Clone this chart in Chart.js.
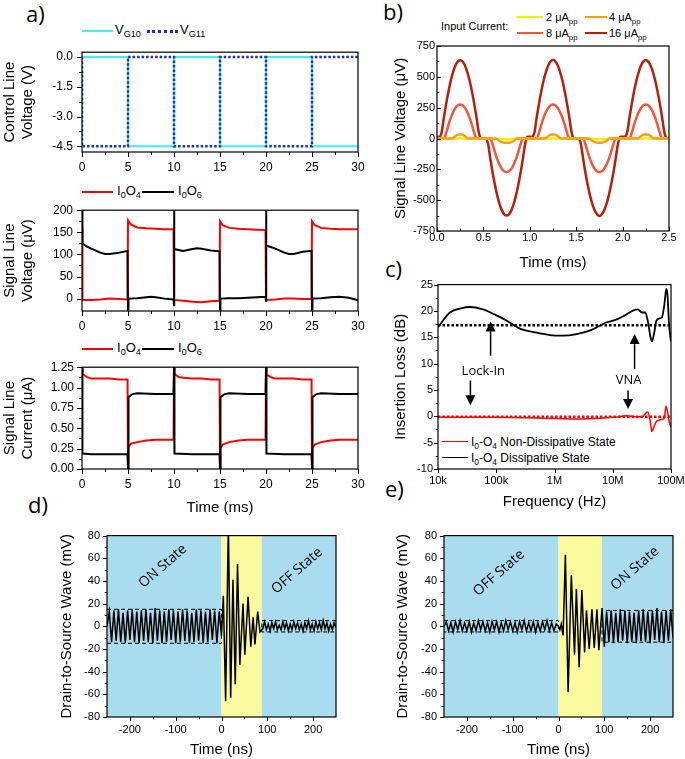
<!DOCTYPE html>
<html>
<head>
<meta charset="utf-8">
<title>Control / signal line figure</title>
<script src="https://cdn.jsdelivr.net/npm/chart.js@4.4.1/dist/chart.umd.min.js"></script>
<style>
  html, body { margin: 0; padding: 0; background: #fff; }
  body { position: relative; width: 685px; height: 759px; overflow: hidden; font-family: "Liberation Sans", Arial, sans-serif; color: #000; }
  canvas { position: absolute; }
  .tag { position: absolute; font: 22px/22px "Open Sans", sans-serif; }
  .lg { position: absolute; font-size: 12px; line-height: 14px; white-space: nowrap; }
  .lg sub { font-size: 70%; vertical-align: -3px; line-height: 0; }
  .sm { font-size: 11px; }
  .sw { position: absolute; height: 0; }
</style>
</head>
<body>

<div class="tag" style="left:26px;top:2px">a)</div>
<div class="tag" style="left:383px;top:0px">b)</div>
<div class="tag" style="left:385px;top:257px">c)</div>
<div class="tag" style="left:28px;top:493px">d)</div>
<div class="tag" style="left:385px;top:477px">e)</div>

<!-- a) legends -->
<div class="sw" style="left:82px;top:30px;width:31px;border-top:2.5px solid #40eef0"></div>
<div class="lg" style="left:115px;top:23px;font-size:13px">V<sub>G10</sub></div>
<div class="sw" style="left:147px;top:30px;width:31px;border-top:3px dotted #1a30c8"></div>
<div class="lg" style="left:180px;top:23px;font-size:13px">V<sub>G11</sub></div>

<div class="sw" style="left:82px;top:191px;width:31px;border-top:2px solid #ff0000"></div>
<div class="lg" style="left:117px;top:184px;font-size:13px">I<sub>0</sub>O<sub>4</sub></div>
<div class="sw" style="left:142px;top:191px;width:32px;border-top:2px solid #000"></div>
<div class="lg" style="left:178px;top:184px;font-size:13px">I<sub>0</sub>O<sub>6</sub></div>

<div class="sw" style="left:82px;top:348px;width:31px;border-top:2px solid #ff0000"></div>
<div class="lg" style="left:117px;top:341px;font-size:13px">I<sub>0</sub>O<sub>4</sub></div>
<div class="sw" style="left:142px;top:348px;width:32px;border-top:2px solid #000"></div>
<div class="lg" style="left:178px;top:341px;font-size:13px">I<sub>0</sub>O<sub>6</sub></div>

<!-- b) legend -->
<div class="lg sm" style="left:441px;top:19px">Input Current:</div>
<div class="sw" style="left:517px;top:16px;width:26px;border-top:2.5px solid #f4ef00"></div>
<div class="lg sm" style="left:546px;top:10px">2 μA<sub>pp</sub></div>
<div class="sw" style="left:585px;top:16px;width:22px;border-top:2.5px solid #ff9a1a"></div>
<div class="lg sm" style="left:609px;top:10px">4 μA<sub>pp</sub></div>
<div class="sw" style="left:517px;top:32px;width:26px;border-top:2.5px solid #f5553a"></div>
<div class="lg sm" style="left:546px;top:26px">8 μA<sub>pp</sub></div>
<div class="sw" style="left:585px;top:32px;width:22px;border-top:2.5px solid #b3200e"></div>
<div class="lg sm" style="left:609px;top:26px">16 μA<sub>pp</sub></div>

<!-- c) legend -->
<div class="sw" style="left:442px;top:441px;width:26px;border-top:1.5px solid #ff0000"></div>
<div class="lg" style="left:471px;top:435px">I<sub>0</sub>-O<sub>4</sub> Non-Dissipative State</div>
<div class="sw" style="left:442px;top:457px;width:26px;border-top:1.5px solid #000"></div>
<div class="lg" style="left:471px;top:451px">I<sub>0</sub>-O<sub>4</sub> Dissipative State</div>

<script>
// ---------- a) time-domain switching (ms) ----------
const aTimeTicks = [0, 5, 10, 15, 20, 25, 30];
const a1YTicks = [0, -1.5, -3, -4.5];
const a2YTicks = [0, 50, 100, 150, 200];
const a3YTicks = [0, 0.25, 0.5, 0.75, 1, 1.25];

const vg10 = [[0,0],[5,0],[5,-4.5],[10,-4.5],[10,0],[15,0],[15,-4.5],[20,-4.5],[20,0],[25,0],[25,-4.5],[30,-4.5]];
const vg11 = [[0,0],[0,-4.5],[5,-4.5],[5,0],[10,0],[10,-4.5],[15,-4.5],[15,0],[20,0],[20,-4.5],[25,-4.5],[25,0],[30,0]];

const a2O4 = [[0,160],[0.05,-3],[1,-3],[2,-2],[3,0],[4,-1],[4.95,-2],[5,177],[5.3,168],[6,161],[7,159],[8,158],[9,157],[9.95,157],
  [10,-3],[11,-5],[12,-7],[13,-8],[14,-6],[14.95,-5],[15,175],[15.3,166],[16,160],[17,158],[18,157],[19,156],[19.95,155],
  [20,-3],[21,-2],[22,0],[23,0],[24,-1],[24.95,-1],[25,175],[25.3,166],[26,160],[27,158],[28,157],[29,157],[30,157]];
const a2O6 = [[0,200],[0.05,125],[0.5,118],[1,113],[2,104],[2.5,101],[3,101],[4,104],[4.95,108],[5,-25],[5.05,0],[6,1],[7,3],[7.5,4],[8,3],[9,0],[9.95,-2],
  [10,-15],[10,200],[10.05,112],[11,108],[12,112],[12.5,114],[13,113],[14,109],[14.95,107],[15,-25],[15.05,0],[16,1],[17,1],[18,2],[19,3],[19.95,4],
  [20,-5],[20,200],[20.05,120],[21,113],[22,104],[22.5,101],[23,101],[24,106],[24.95,108],[25,-25],[25.05,0],[26,1],[27,3],[28,4],[29,2],[30,-4]];

const a3O4 = [[0,1.25],[0.05,1.17],[0.5,1.13],[1,1.11],[2,1.11],[3,1.11],[4,1.1],[4.95,1.1],[5,0],[5.05,0.27],[5.3,0.31],[6,0.33],[7,0.35],[8,0.36],[9,0.36],[9.95,0.36],
  [10,1.25],[10.05,1.17],[10.5,1.13],[11,1.12],[12,1.11],[13,1.11],[14,1.1],[14.95,1.1],[15,0],[15.05,0.26],[15.3,0.3],[16,0.33],[17,0.35],[18,0.36],[19,0.36],[19.95,0.36],
  [20,1.25],[20.05,1.16],[20.5,1.13],[21,1.11],[22,1.11],[23,1.11],[24,1.1],[24.95,1.1],[25,0],[25.05,0.26],[25.3,0.3],[26,0.33],[27,0.35],[28,0.36],[29,0.36],[30,0.36]];
const a3O6 = [[0,1.25],[0.05,0.19],[1,0.18],[4.95,0.18],[5,0],[5.05,0.88],[5.5,0.92],[6,0.93],[8,0.92],[9.95,0.92],
  [10,1.25],[10.05,0.19],[12,0.18],[14.95,0.18],[15,0],[15.05,0.88],[15.5,0.92],[16,0.93],[18,0.92],[19.95,0.92],
  [20,1.25],[20.05,0.19],[22,0.18],[24.95,0.18],[25,0],[25.05,0.88],[25.5,0.92],[26,0.93],[28,0.92],[30,0.92]];

// ---------- b) sinusoidal input (ms, µV) ----------
const bXTicks = [0, 0.5, 1, 1.5, 2, 2.5];
const bYTicks = [-750, -500, -250, 0, 250, 500, 750];
const bTime = [0, 0.025, 0.05, 0.075, 0.1, 0.125, 0.15, 0.175, 0.2, 0.225, 0.25, 0.275, 0.3, 0.325, 0.35, 0.375, 0.4, 0.425, 0.45, 0.475,
  0.5, 0.525, 0.55, 0.575, 0.6, 0.625, 0.65, 0.675, 0.7, 0.725, 0.75, 0.775, 0.8, 0.825, 0.85, 0.875, 0.9, 0.925, 0.95, 0.975,
  1, 1.025, 1.05, 1.075, 1.1, 1.125, 1.15, 1.175, 1.2, 1.225, 1.25, 1.275, 1.3, 1.325, 1.35, 1.375, 1.4, 1.425, 1.45, 1.475,
  1.5, 1.525, 1.55, 1.575, 1.6, 1.625, 1.65, 1.675, 1.7, 1.725, 1.75, 1.775, 1.8, 1.825, 1.85, 1.875, 1.9, 1.925, 1.95, 1.975,
  2, 2.025, 2.05, 2.075, 2.1, 2.125, 2.15, 2.175, 2.2, 2.225, 2.25, 2.275, 2.3, 2.325, 2.35, 2.375, 2.4, 2.425, 2.45, 2.475, 2.5];
const b16uA = [12, 12, 51, 174, 287, 387, 474, 543, 594, 625, 635, 625, 594, 543, 474, 387, 287, 174, 51, 0,
  0, 0, -45, -165, -280, -380, -465, -535, -585, -615, -625, -615, -585, -535, -465, -380, -280, -165, -45, 15,
  15, 15, 51, 174, 287, 387, 474, 543, 594, 625, 638, 625, 594, 543, 474, 387, 287, 174, 51, 0,
  0, 0, -45, -165, -280, -380, -465, -535, -585, -615, -628, -615, -585, -535, -465, -380, -280, -165, -45, 15,
  15, 15, 51, 174, 287, 387, 474, 543, 594, 625, 636, 625, 594, 543, 474, 387, 287, 174, 51, 0, 0];
const b8uA = [0, 0, 0, 0, 49, 114, 171, 216, 249, 269, 276, 269, 249, 216, 171, 114, 49, 0, 0, 0,
  0, 0, 0, 0, -48, -112, -169, -214, -247, -266, -273, -266, -247, -214, -169, -112, -48, 0, 0, 0,
  0, 0, 0, 0, 49, 114, 171, 216, 249, 269, 276, 269, 249, 216, 171, 114, 49, 0, 0, 0,
  0, 0, 0, 0, -48, -112, -169, -214, -247, -266, -273, -266, -247, -214, -169, -112, -48, 0, 0, 0,
  0, 0, 0, 0, 49, 114, 171, 216, 249, 269, 276, 269, 249, 216, 171, 114, 49, 0, 0, 0, 0];
const b4uA = [0, 0, 0, 0, 0, 0, 0, 4, 21, 31, 34, 31, 21, 4, 0, 0, 0, 0, 0, 0,
  0, 0, 0, 0, 0, 0, -4, -20, -30, -34, -35, -34, -30, -20, -4, 0, 0, 0, 0, 0,
  0, 0, 0, 0, 0, 0, 0, 4, 21, 31, 34, 31, 21, 4, 0, 0, 0, 0, 0, 0,
  0, 0, 0, 0, 0, 0, -4, -20, -30, -34, -35, -34, -30, -20, -4, 0, 0, 0, 0, 0,
  0, 0, 0, 0, 0, 0, 0, 4, 21, 31, 34, 31, 21, 4, 0, 0, 0, 0, 0, 0, 0];
const b2uA = [0, 0, 0, 0, 0, 0, 0, 0, 0, 0, 2, 0, 0, 0, 0, 0, 0, 0, 0, 0,
  0, 0, 0, 0, 0, 0, -3, -5, -6, -6, -6, -6, -6, -5, -3, 0, 0, 0, 0, 0,
  0, 0, 0, 0, 0, 0, 0, 0, 0, 0, 2, 0, 0, 0, 0, 0, 0, 0, 0, 0,
  0, 0, 0, 0, 0, 0, -3, -5, -6, -6, -6, -6, -6, -5, -3, 0, 0, 0, 0, 0,
  0, 0, 0, 0, 0, 0, 0, 0, 0, 0, 2, 0, 0, 0, 0, 0, 0, 0, 0, 0, 0];

// ---------- c) insertion loss vs frequency ----------
const cXTicks = [1e4, 1e5, 1e6, 1e7, 1e8];
const cXLabels = ['10k', '100k', '1M', '10M', '100M'];
const cYTicks = [-10, -5, 0, 5, 10, 15, 20, 25];
const cDissipative = [[1e4,16.9],[1.6e4,19.7],[2.5e4,20.5],[3.5e4,20.75],[5.9e4,20.3],[9.1e4,19.4],[1.5e5,18.2],[2.6e5,16.6],[4.4e5,16.0],
  [8.4e5,15.4],[1.4e6,15.3],[2.4e6,15.6],[4.1e6,16.3],[7.7e6,17.8],[1.18e7,18.4],[1.75e7,19.4],[2.27e7,20.1],[2.7e7,20.3],[3.17e7,19.7],
  [3.6e7,19.7],[4e7,18.1],[4.4e7,15.3],[4.7e7,14.2],[5.1e7,15.6],[5.6e7,18.1],[6.4e7,18.6],[7e7,18.8],[7.7e7,21.2],[8.3e7,24.2],
  [8.7e7,23.1],[9.3e7,17.2],[1e8,14.2]];
const cNonDissipative = [[1e4,-0.2],[1e5,-0.2],[1e6,-0.4],[3e6,-0.5],[1e7,-0.2],[1.75e7,0.1],[2.5e7,-0.1],[3.2e7,-0.1],[3.7e7,0.6],[4e7,0.8],
  [4.4e7,-1.0],[4.7e7,-2.9],[5.1e7,-2.0],[5.6e7,-1.0],[6.4e7,-0.7],[7e7,-0.6],[7.7e7,-0.3],[8.2e7,1.9],[8.7e7,1.0],[9.3e7,-1.0],[1e8,-2.0]];
const cLockInDiss = [[1e4,17.3],[1e8,17.3]];
const cLockInNon = [[1e4,-0.1],[1e8,-0.1]];
const cArrows = [[3.6e4, 6.8, 2.1], [8.0e4, 11.5, 18.0], [1.83e7, 4.9, 1.4], [2.37e7, 9.0, 15.6]];
const cNotes = [['Lock-In', 6.0e4, 8.6], ['VNA', 1.87e7, 6.9]];

// ---------- d) / e) drain-to-source transients (ns, mV) ----------
const nsTicks = [-200, -100, 0, 100, 200];
const mvTicks = [-80, -60, -40, -20, 0, 20, 40, 60, 80];
const dStateEdges = [-250, 0, 88, 250];
const eStateEdges = [-250, 0, 95, 250];
const dWave = [[-250,0],[-245,13],[-240,-14],[-235,14],[-230,-13],[-225,15],[-220,-14],[-215,12],[-210,-15],[-205,14],
  [-200,-12],[-195,15],[-190,-14],[-185,13],[-180,-15],[-175,14],[-170,-13],[-165,15],[-160,-14],[-155,12],
  [-150,-15],[-145,16],[-140,-13],[-135,14],[-130,-15],[-125,13],[-120,-14],[-115,15],[-110,-12],[-105,14],
  [-100,-15],[-95,13],[-90,-14],[-85,15],[-80,-13],[-75,14],[-70,-15],[-65,12],[-60,-14],[-55,15],
  [-50,-13],[-45,14],[-40,-15],[-35,13],[-30,-14],[-25,15],[-20,-12],[-15,14],[-10,-15],[-5,13],
  [0,-8],[4,27],[9,-66],[15,90],[20,-63],[25,41],[30,-51],[35,55],[40,-34],[47,20],[51,-25],[58,26],[64,-18],[69,8],[73,-16],[79,13],[84,-5],
  [90,-2],[94,4],[98,-3],[102,2],[106,-4],[110,3],[114,-2],[118,4],[122,-3],[126,1],[130,-3],[134,4],[138,-2],[142,3],[146,-4],
  [150,2],[154,-3],[158,4],[162,-2],[166,3],[170,-3],[174,2],[178,-4],[182,3],[186,-2],[190,5],[194,-3],[198,2],[202,-4],[206,4],
  [210,-2],[214,3],[218,-3],[222,5],[226,-2],[230,3],[234,-4],[238,2],[242,-3],[246,3],[250,-1]];
const dGuideOn = [[-250,15],[0,15],[0,-15],[-250,-15]];
const dGuideOff = [[250,5],[88,5],[88,-5],[250,-5]];
const dStateText = [['ON State', -128, 53], ['OFF State', 165, 49]];

const eWave = [[-250,0],[-245,4],[-240,-4],[-235,3],[-230,-5],[-225,4],[-220,-3],[-215,5],[-210,-4],[-205,3],
  [-200,-4],[-195,4],[-190,-5],[-185,3],[-180,-4],[-175,5],[-170,-3],[-165,4],[-160,-4],[-155,3],
  [-150,-5],[-145,4],[-140,-3],[-135,4],[-130,-5],[-125,3],[-120,-4],[-115,5],[-110,-3],[-105,4],
  [-100,-4],[-95,3],[-90,-5],[-85,4],[-80,-3],[-75,5],[-70,-4],[-65,3],[-60,-4],[-55,4],
  [-50,-5],[-45,3],[-40,-4],[-35,4],[-30,-3],[-25,5],[-20,-4],[-15,3],[-10,-4],[-5,2],[0,0],
  [3,-3],[6,2],[10,-8],[15,63],[21,-58],[28,45],[35,-25],[39,33],[45,-36],[51,32],[57,-23],[61,14],[67,-20],[73,15],[78,-19],[84,15],[88,-21],
  [95,16],[100,-18],[105,13],[110,-14],[115,14],[120,-15],[125,12],[130,-14],[135,15],[140,-13],[145,14],[150,-15],[155,13],[160,-14],
  [165,12],[170,-15],[175,14],[180,-13],[185,15],[190,-14],[195,13],[200,-15],[205,14],[210,-12],[215,16],[220,-14],[225,13],[230,-15],
  [235,14],[240,-13],[245,15],[250,-10]];
const eGuideOff = [[-250,5],[0,5],[0,-5],[-250,-5]];
const eGuideOn = [[250,14],[95,14],[95,-14],[250,-14]];
const eStateText = [['OFF State', -130, 47], ['ON State', 167, 51]];

// ---------- drawing ----------
const SANS = '"Liberation Sans", Arial, sans-serif';
const BLUE_BG = '#a8dcee', YELLOW_BG = '#fcfa9e';
const DECOR = {};

const decorPlugin = {
  id: 'decor',
  beforeDatasetsDraw(chart) {
    const o = DECOR[chart.canvas.id];
    if (!o || !o.bands) return;
    const { ctx, chartArea: a } = chart, xs = chart.scales.x;
    ctx.save();
    for (let i = 0; i < o.bands.length - 1; i++) {
      const x0 = xs.getPixelForValue(o.bands[i]), x1 = xs.getPixelForValue(o.bands[i + 1]);
      ctx.fillStyle = o.bandColors[i];
      ctx.fillRect(x0, a.top, x1 - x0, a.bottom - a.top);
    }
    ctx.restore();
  },
  afterDraw(chart) {
    const o = DECOR[chart.canvas.id];
    if (!o) return;
    const { ctx, chartArea: a } = chart, xs = chart.scales.x, ys = chart.scales.y;
    ctx.save();
    ctx.fillStyle = '#000';
    ctx.strokeStyle = '#000';

    // text notes (rotated for d/e)
    (o.notes || []).forEach(n => {
      ctx.save();
      ctx.translate(xs.getPixelForValue(n[1]), ys.getPixelForValue(n[2]));
      ctx.rotate((o.angle || 0) * Math.PI / 180);
      ctx.font = o.noteFont;
      ctx.textAlign = 'center';
      ctx.textBaseline = 'middle';
      ctx.fillText(n[0], 0, 0);
      ctx.restore();
    });

    // vertical arrows (c)
    (o.arrows || []).forEach(ar => {
      const px = xs.getPixelForValue(ar[0]);
      const y0 = ys.getPixelForValue(ar[1]), y1 = ys.getPixelForValue(ar[2]);
      const dir = y1 < y0 ? 1 : -1, head = 10;
      ctx.lineWidth = 1.5;
      ctx.beginPath(); ctx.moveTo(px, y0); ctx.lineTo(px, y1 + dir * head); ctx.stroke();
      ctx.beginPath();
      ctx.moveTo(px, y1);
      ctx.lineTo(px - 5, y1 + dir * head);
      ctx.lineTo(px + 5, y1 + dir * head);
      ctx.closePath(); ctx.fill();
    });

    // major + minor tick marks
    ctx.lineWidth = 1;
    ctx.beginPath();
    [['x', xs], ['y', ys]].forEach(([k, s]) => {
      const t = o.ticks[k];
      const vals = s.ticks.map(tk => tk.value);
      const marks = vals.map(v => [v, t.len]);
      if (t.minor) for (let i = 0; i < vals.length - 1; i++) marks.push([(vals[i] + vals[i + 1]) / 2, t.len * 0.6]);
      marks.forEach(([v, len]) => {
        const p = Math.round(s.getPixelForValue(v)) + 0.5;
        if (k === 'x') { ctx.moveTo(p, a.bottom); ctx.lineTo(p, a.bottom + t.dir * len); }
        else { ctx.moveTo(a.left, p); ctx.lineTo(a.left - t.dir * len, p); }
      });
    });
    ctx.stroke();

    // box frame
    ctx.lineWidth = 1.2;
    ctx.strokeRect(a.left, a.top, a.right - a.left, a.bottom - a.top);
    ctx.restore();
  }
};
Chart.register(decorPlugin);

function series(points, color, width, dash, smooth) {
  return {
    data: points.map(p => ({ x: p[0], y: p[1] })),
    borderColor: color, borderWidth: width, borderDash: dash || [],
    pointRadius: 0, fill: false, tension: 0,
    cubicInterpolationMode: smooth ? 'monotone' : 'default'
  };
}
function zip(xs, ys) { return xs.map((x, i) => [x, ys[i]]); }

function axisOpts(o, isX, size) {
  return {
    type: o.type || 'linear',
    position: isX ? 'bottom' : 'left',
    min: o.min, max: o.max,
    afterBuildTicks: s => { s.ticks = o.ticks.map(v => ({ value: v })); },
    afterFit: s => { if (isX) s.height = size; else s.width = size; },
    grid: { display: false, drawTicks: false },
    border: { display: false },
    ticks: { padding: o.pad, color: '#000', autoSkip: false, maxRotation: 0, font: { family: SANS, size: o.fs }, callback: o.fmt },
    title: o.title
      ? { display: true, text: o.title, color: '#000', font: { family: SANS, size: 15, lineHeight: 1.25 }, padding: { top: o.tpad || 0, bottom: 0 } }
      : { display: false }
  };
}

// box = canvas [left, top, width, height]; area = plot [left, top, right, bottom], page pixels
function makeChart(id, box, area, datasets, xo, yo, decor) {
  const cv = document.createElement('canvas');
  cv.id = id;
  cv.width = box[2]; cv.height = box[3];
  cv.style.left = box[0] + 'px'; cv.style.top = box[1] + 'px';
  document.body.appendChild(cv);
  DECOR[id] = decor;
  return new Chart(cv, {
    type: 'line',
    data: { datasets },
    options: {
      responsive: false, animation: false, events: [], devicePixelRatio: 1,
      layout: { padding: { top: area[1] - box[1], right: box[0] + box[2] - area[2], left: 0, bottom: 0 } },
      plugins: { legend: { display: false }, tooltip: { enabled: false } },
      scales: {
        x: axisOpts(xo, true, box[1] + box[3] - area[3]),
        y: axisOpts(yo, false, area[0] - box[0])
      }
    }
  });
}

const fmt0 = v => String(v);
const fmt1 = v => v.toFixed(1);
const fmt2 = v => v.toFixed(2);
const aTicks = { x: { len: 5, dir: 1, minor: true }, y: { len: 5, dir: 1, minor: true } };
const aX = { min: 0, max: 30, ticks: aTimeTicks, pad: 8, fs: 12, fmt: fmt0 };

makeChart('a1', [0, 36, 375, 140], [82, 46, 358, 152],
  [series(vg11, '#1a30c8', 2.5, [2.5, 2]), series(vg10, '#40eef0', 2)],
  aX,
  { min: -4.784, max: 0.237, ticks: a1YTicks, pad: 9, fs: 12, fmt: fmt1, title: ['Control Line', 'Voltage (V)'] },
  { ticks: aTicks });

makeChart('a2', [0, 194, 375, 141], [82, 205, 358, 311],
  [series(a2O6, '#000000', 2), series(a2O4, '#ff0000', 2)],
  aX,
  { min: -28, max: 200, ticks: a2YTicks, pad: 9, fs: 12, fmt: fmt0, title: ['Signal Line', 'Voltage (μV)'] },
  { ticks: aTicks });

makeChart('a3', [0, 352, 375, 165], [82, 363, 358, 469],
  [series(a3O6, '#000000', 2), series(a3O4, '#ff0000', 2)],
  Object.assign({}, aX, { title: 'Time (ms)' }),
  { min: 0, max: 1.25, ticks: a3YTicks, pad: 8, fs: 12, fmt: fmt2, title: ['Signal Line', 'Current (μA)'] },
  { ticks: aTicks });

makeChart('b', [390, 36, 300, 236], [437, 46, 669, 231],
  [series(zip(bTime, b4uA), '#ff9a1a', 2.5, null, true),
   series(zip(bTime, b2uA), '#f4ef00', 2.5, null, true),
   series(zip(bTime, b8uA), '#f5553a', 2.5, null, true),
   series(zip(bTime, b16uA), '#b3200e', 2.5, null, true)],
  { min: 0, max: 2.5, ticks: bXTicks, pad: 0, fs: 11, fmt: fmt1, title: 'Time (ms)' },
  { min: -750, max: 750, ticks: bYTicks, pad: 2, fs: 11, fmt: fmt0, title: 'Signal Line Voltage (μV)', tpad: 1 },
  { ticks: { x: { len: 4, dir: -1, minor: true }, y: { len: 4, dir: -1, minor: true } } });

makeChart('c', [390, 273, 305, 238], [438, 283, 671, 469],
  [series(cNonDissipative, '#ff0000', 1.5, null, true),
   series(cDissipative, '#000000', 1.8, null, true),
   series(cLockInDiss, '#000000', 2.5, [2.5, 2]),
   series(cLockInNon, '#ff0000', 2.5, [2.5, 2])],
  { type: 'logarithmic', min: 1e4, max: 1e8, ticks: cXTicks, pad: 5, fs: 11, fmt: (v, i) => cXLabels[i], title: 'Frequency (Hz)' },
  { min: -10, max: 25, ticks: cYTicks, pad: 5, fs: 11, fmt: fmt0, title: 'Insertion Loss (dB)', tpad: 1 },
  { ticks: { x: { len: 4, dir: 1, minor: false }, y: { len: 4, dir: 1, minor: true } },
    arrows: cArrows, notes: cNotes, noteFont: '13px "Open Sans", sans-serif', angle: 0 });

const nsAxis = { min: -250, max: 250, ticks: nsTicks, pad: 6, fs: 11, fmt: fmt0, title: 'Time (ns)' };
const mvAxis = { min: -80, max: 80, ticks: mvTicks, pad: 7, fs: 11, fmt: fmt0, title: 'Drain-to-Source Wave (mV)', tpad: 1 };
const deTicks = { x: { len: 4, dir: 1, minor: true }, y: { len: 4, dir: 1, minor: true } };

makeChart('d', [56, 522, 294, 237], [107, 532, 336, 717],
  [series(dWave, '#000000', 1.5), series(dGuideOn, '#000000', 1, [4, 3]), series(dGuideOff, '#000000', 1, [4, 3])],
  nsAxis, mvAxis,
  { ticks: deTicks, bands: dStateEdges, bandColors: [BLUE_BG, YELLOW_BG, BLUE_BG],
    notes: dStateText, noteFont: '14px "Open Sans", sans-serif', angle: -41 });

makeChart('e', [392, 522, 300, 237], [444, 532, 673, 717],
  [series(eWave, '#000000', 1.5), series(eGuideOff, '#000000', 1, [4, 3]), series(eGuideOn, '#000000', 1, [4, 3])],
  nsAxis, mvAxis,
  { ticks: deTicks, bands: eStateEdges, bandColors: [BLUE_BG, YELLOW_BG, BLUE_BG],
    notes: eStateText, noteFont: '14px "Open Sans", sans-serif', angle: -41 });
</script>
</body>
</html>
